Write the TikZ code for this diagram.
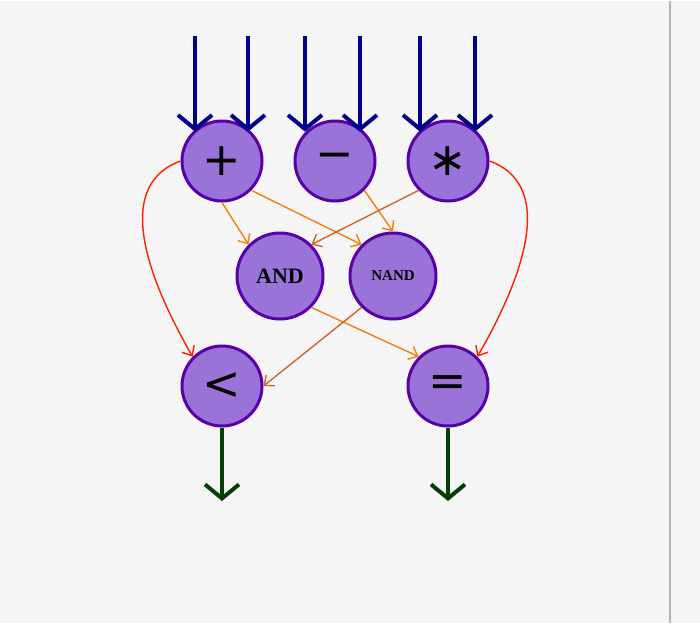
\documentclass[tikz,border=0pt]{standalone}
\usepackage{fontspec}
\setmainfont{Liberation Serif}
\newfontfamily\symf{DejaVu Sans}
\usetikzlibrary{arrows.meta}
\begin{document}
\begin{tikzpicture}[x=1pt,y=-1pt,
 op/.style={circle,draw=violet!70!blue,line width=3pt,fill=blue!45!violet!55!white,minimum size=80pt,inner sep=0pt,font=\symf\fontsize{46}{46}\selectfont},
 gate/.style={op,minimum size=86pt,font=\bfseries\fontsize{22}{22}\selectfont},
 inarr/.style={draw=blue!55!black,line width=4pt,-{Straight Barb[length=14pt,width=34pt,line width=4pt]}},
 outarr/.style={draw=green!25!black,line width=4pt,-{Straight Barb[length=14pt,width=34pt,line width=4pt]}},
 lnk/.style={line width=1.4pt,-{Straight Barb[length=8pt,width=14pt]}},
 orng/.style={lnk,draw=orange!80!brown},
 brn/.style={lnk,draw=brown!80!red},
 rd/.style={lnk,draw=red!75!orange}]
\fill[gray!8] (0,0) rectangle (700,622);
\draw[gray!60,line width=2pt] (670,0) -- (670,622);
\node[op] (plus) at (222,160) {+};
\node[op] (minus) at (335,160) {−};
\node[op] (times) at (448,160) {∗};
\node[gate] (and) at (280,275) {AND};
\node[gate,font=\bfseries\fontsize{15}{15}\selectfont] (nand) at (393,275) {NAND};
\node[op] (lt) at (222,385) {<};
\node[op] (eq) at (448,385) {=};
\foreach \n/\a/\b in {plus/195/248,minus/305/360,times/420/475}{
  \coordinate (s1) at (\a,35); \coordinate (s2) at (\b,35);
  \draw[inarr] (s1) -- (\n.north west -| s1) ;
  \draw[inarr] (s2) -- (\n.north east -| s2);
}
\coordinate (o1) at (222,500); \coordinate (o2) at (448,500);
\draw[outarr] (lt.south) -- (o1);
\draw[outarr] (eq.south) -- (o2);
\draw[orng] (plus.south) -- (and.north west);
\draw[orng] (plus.south east) -- (nand.north west);
\draw[orng] (minus.south east) -- (nand.north);
\draw[brn] (times.south west) -- (and.north east);
\draw[orng] (and.south east) -- (eq.north west);
\draw[brn] (nand.south west) -- (lt.east);
\draw[rd] (plus.west) to[out=200,in=120] (lt.north west);
\draw[rd] (times.east) to[out=-20,in=60] (eq.north east);
\end{tikzpicture}
\end{document}
